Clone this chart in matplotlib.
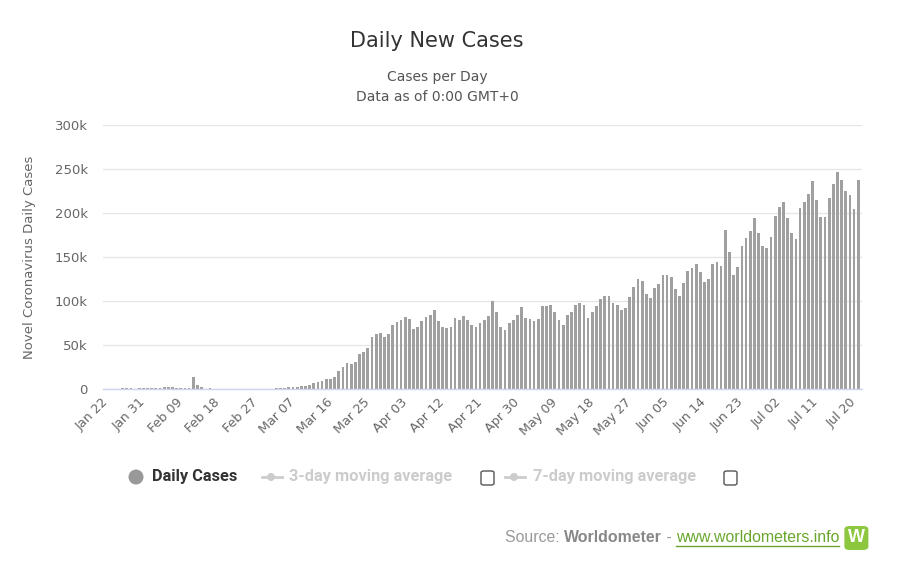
import matplotlib
matplotlib.use('Agg')
import matplotlib.pyplot as plt
from matplotlib.patches import FancyBboxPatch, Ellipse
from matplotlib.lines import Line2D
from matplotlib import font_manager
import numpy as np
import pandas as pd

# ---------------- data (daily new cases, Jan 22 - Jul 21, 2020) ----------------
start_date = '2020-01-22'
jan_cases = [0, 100, 250, 450, 600, 700, 800, 500, 700, 1200]
feb_cases = [1200, 1000, 1200, 1500, 2300, 2500, 2000, 1200, 1200, 1000, 1200,
             13500, 4500, 2000, 400, 1000,
             400, 300, 450, 300, 350, 500, 400, 450, 500, 300, 400, 500, 450]
mar_cases = [400, 500,
             1200, 1500, 1500, 2200, 2500, 2500, 3000, 3500, 4500, 7000, 7500,
             9000, 11000, 11000, 14000, 20000, 25000, 29000, 28000, 31000, 40000,
             42000, 47000, 59000, 63000, 64000, 59000, 63000, 73000]
apr_cases = [76000, 78000, 82000, 79000, 68000, 71000, 77000, 82000, 84000, 90000,
             77000, 70000, 69000, 71000, 81000, 78000, 83000, 78000, 73000, 71000,
             75000, 78000, 83000, 100000, 88000, 71000, 67000, 75000, 78000, 84000]
may_cases = [93000, 81000, 80000, 77000, 80000, 94000, 94000, 95000, 87000, 78000,
             73000, 84000, 88000, 95000, 98000, 95000, 81000, 88000, 94000, 102000,
             106000, 106000, 98000, 95000, 90000, 92000, 105000, 116000, 125000, 123000,
             108000]
jun_cases = [103000, 115000, 119000, 129000, 129000, 127000, 114000, 106000, 120000, 134000,
             137000, 142000, 133000, 122000, 125000, 142000, 144000, 140000, 181000, 156000,
             129000, 139000, 162000, 172000, 180000, 194000, 177000, 163000, 160000, 173000]
jul_cases = [197000, 207000, 213000, 194000, 177000, 170000, 206000, 212000, 222000, 236000,
             215000, 196000, 195000, 217000, 233000, 247000, 238000, 225000, 220000, 204000,
             237000]

daily_cases = jan_cases + feb_cases + mar_cases + apr_cases + may_cases + jun_cases + jul_cases
dates = pd.date_range(start_date, periods=len(daily_cases), freq='D')
tick_every = 9
y_ticks = [0, 50000, 100000, 150000, 200000, 250000, 300000]
y_tick_labels = ['0', '50k', '100k', '150k', '200k', '250k', '300k']

title = 'Daily New Cases'
subtitle_1 = 'Cases per Day'
subtitle_2 = 'Data as of 0:00 GMT+0'
y_title = 'Novel Coronavirus Daily Cases'
legend_items = ['Daily Cases', '3-day moving average', '7-day moving average']

# ---------------- fonts ----------------
names = {f.name for f in font_manager.fontManager.ttflist}
legend_font = 'Roboto' if 'Roboto' in names else 'DejaVu Sans'
arial = 'Liberation Sans' if 'Liberation Sans' in names else 'DejaVu Sans'
plt.rcParams['font.family'] = ['DejaVu Sans']

W, H = 900, 575
fig = plt.figure(figsize=(W / 100, H / 100), dpi=100)
fig.patch.set_facecolor('white')


def fx(px):
    return px / W


def fy(py):
    return 1 - py / H


# ---------------- axes ----------------
left, right, top, bottom = 103, 862, 125, 389
ax = fig.add_axes([fx(left), fy(bottom), (right - left) / W, (bottom - top) / H])
x = np.arange(len(daily_cases))
ax.bar(x, daily_cases, width=0.66, color='#a0a0a0', edgecolor='none', zorder=3)

ax.set_xlim(-0.72, 181.9)
ax.set_ylim(0, 300000)
ax.set_yticks(y_ticks)
ax.set_yticklabels(y_tick_labels, color='#666666', fontsize=9.5)
ax.yaxis.grid(True, color='#e6e6e6', linewidth=1, zorder=0)
ax.set_axisbelow(True)
for s in ['left', 'right', 'top']:
    ax.spines[s].set_visible(False)
ax.spines['bottom'].set_color('#ccd6eb')
ax.spines['bottom'].set_linewidth(1)
ax.spines['bottom'].set_zorder(4)

tick_pos = x[::tick_every]
tick_pos = tick_pos[tick_pos <= 180]
ax.set_xticks(tick_pos)
ax.set_xticklabels([dates[i].strftime('%b %d') for i in tick_pos], rotation=45,
                   ha='right', va='center', rotation_mode='anchor',
                   color='#666666', fontsize=9.2)
ax.tick_params(axis='both', length=0)
ax.tick_params(axis='y', pad=11)
ax.tick_params(axis='x', pad=8)

# ---------------- titles ----------------
fig.text(fx(437), fy(41), title, ha='center', va='center', fontsize=15, color='#333333')
fig.text(fx(437), fy(77), subtitle_1, ha='center', va='center', fontsize=10, color='#555555')
fig.text(fx(437), fy(97), subtitle_2, ha='center', va='center', fontsize=10, color='#555555')
fig.text(fx(30), fy(257), y_title, ha='center', va='center', rotation=90,
         fontsize=9.5, color='#666666')

# ---------------- legend ----------------
ly = 477
fig.patches.append(Ellipse((fx(136), fy(ly)), 15 / W, 15 / H, transform=fig.transFigure,
                           facecolor='#999999', edgecolor='none'))
fig.text(fx(152), fy(ly), legend_items[0], ha='left', va='center', fontsize=11.8,
         fontweight='bold', color='#333333', family=legend_font)
inactive = '#cccccc'
for (lx0, bx) in [(262, 481), (505, 724)]:
    fig.lines.append(Line2D([fx(lx0), fx(lx0 + 20)], [fy(ly), fy(ly)],
                            transform=fig.transFigure, color=inactive, linewidth=2))
    fig.patches.append(Ellipse((fx(lx0 + 9), fy(ly)), 8 / W, 8 / H, transform=fig.transFigure,
                               facecolor=inactive, edgecolor='none'))
    fig.patches.append(FancyBboxPatch((fx(bx), fy(ly + 8)), 13 / W, 14 / H,
                                      boxstyle='round,pad=0,rounding_size=0.003',
                                      transform=fig.transFigure, facecolor='white',
                                      edgecolor='#555555', linewidth=1))
fig.text(fx(289), fy(ly), legend_items[1], ha='left', va='center', fontsize=11.8,
         fontweight='bold', color=inactive, family=legend_font)
fig.text(fx(533), fy(ly), legend_items[2], ha='left', va='center', fontsize=11.8,
         fontweight='bold', color=inactive, family=legend_font)

# ---------------- footer ----------------
fig.canvas.draw()
renderer = fig.canvas.get_renderer()
fyy = fy(538)
cur = 505
parts = [('Source: ', 'normal', '#999999'), ('Worldometer', 'bold', '#888888'),
         (' - ', 'normal', '#999999'), ('www.worldometers.info', 'normal', '#6aa62e')]
link_span = None
for txt, wt, col in parts:
    t = fig.text(fx(cur), fyy, txt, ha='left', va='center', fontsize=11.4,
                 fontweight=wt, color=col, family=arial)
    bb = t.get_window_extent(renderer)
    w = bb.width
    if txt.startswith('www'):
        link_span = (cur, cur + w)
    cur += w
if link_span:
    fig.lines.append(Line2D([fx(link_span[0]), fx(link_span[1])], [fy(546), fy(546)],
                            transform=fig.transFigure, color='#6aa62e', linewidth=1))
logo_x = cur + 5
fig.patches.append(FancyBboxPatch((fx(logo_x), fy(550)), 24 / W, 24 / H,
                                  boxstyle='round,pad=0,rounding_size=0.006',
                                  transform=fig.transFigure, facecolor='#8dc63f',
                                  edgecolor='none'))
fig.text(fx(logo_x + 12), fy(538), 'W', ha='center', va='center', fontsize=13,
         fontweight='bold', color='white', family=arial)

fig.savefig('out.png', dpi=100, facecolor='white')
